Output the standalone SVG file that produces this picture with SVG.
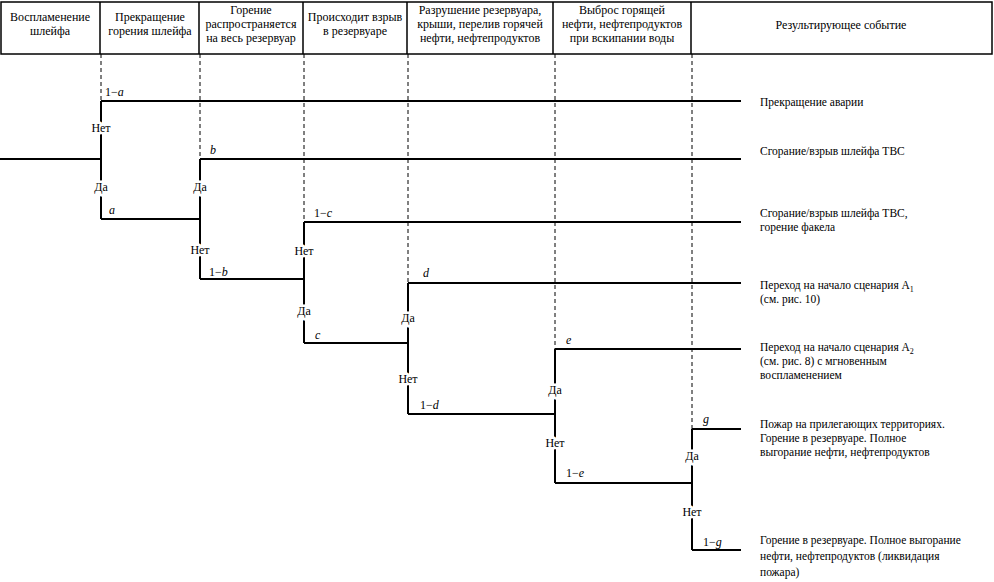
<svg xmlns="http://www.w3.org/2000/svg" width="994" height="582" viewBox="0 0 994 582">
<style>
text{font-family:'Liberation Serif','DejaVu Serif','Times New Roman',serif;font-size:12px;fill:#000}
.h{text-anchor:middle}
.lbl{text-anchor:middle;stroke:#fff;stroke-width:5px;paint-order:stroke;stroke-linejoin:round}
.out{font-size:11.5px}
.br{fill:none;stroke:#000;stroke-width:2}
.dash{fill:none;stroke:#000;stroke-width:1;stroke-dasharray:4 3}
.frame{fill:none;stroke:#000;stroke-width:1.5}
</style>
<rect width="994" height="582" fill="#fff"/>
<g id="header">
<rect class="frame" x="1" y="2" width="991" height="52"/>
<path class="frame" d="M100 2V54M199 2V54M303 2V54M407 2V54M553 2V54M691 2V54"/>
<text class="h" x="50" y="21">Воспламенение</text>
<text class="h" x="50" y="35">шлейфа</text>
<text class="h" x="150" y="21">Прекращение</text>
<text class="h" x="150" y="35">горения шлейфа</text>
<text class="h" x="251" y="14">Горение</text>
<text class="h" x="251" y="28">распространяется</text>
<text class="h" x="251" y="42">на весь резервуар</text>
<text class="h" x="355" y="21">Происходит взрыв</text>
<text class="h" x="355" y="35">в резервуаре</text>
<text class="h" x="480" y="14">Разрушение резервуара,</text>
<text class="h" x="480" y="28">крыши, перелив горячей</text>
<text class="h" x="480" y="42">нефти, нефтепродуктов</text>
<text class="h" x="622" y="14">Выброс горящей</text>
<text class="h" x="622" y="28">нефти, нефтепродуктов</text>
<text class="h" x="622" y="42">при вскипании воды</text>
<text class="h" x="841" y="29">Результирующее событие</text>
</g>
<g id="guides">
<path class="dash" d="M101 54V101M200 54V159M304 54V222M408 54V283M555 54V349M692 54V429"/>
</g>
<g id="connectors">
<path class="br" d="M0 159H101"/>
<path class="br" d="M101 101H741"/>
<path class="br" d="M101 219H200"/>
<path class="br" d="M200 159H741"/>
<path class="br" d="M200 279H304"/>
<path class="br" d="M304 222H741"/>
<path class="br" d="M304 343H408"/>
<path class="br" d="M408 283H741"/>
<path class="br" d="M408 414H555"/>
<path class="br" d="M555 349H741"/>
<path class="br" d="M555 483H692"/>
<path class="br" d="M692 429H741"/>
<path class="br" d="M692 550H741"/>
</g>
<g id="node1">
<path class="br" d="M101 101V219"/>
<text class="lbl" x="101" y="132">Нет</text>
<text class="lbl" x="101" y="191">Да</text>
<text x="105" y="96">1−<tspan font-style="italic">a</tspan></text>
<text x="109" y="214" font-style="italic">a</text>
</g>
<g id="node2">
<path class="br" d="M200 159V279"/>
<text class="lbl" x="200" y="191">Да</text>
<text class="lbl" x="200" y="254">Нет</text>
<text x="210" y="154" font-style="italic">b</text>
<text x="209" y="276">1−<tspan font-style="italic">b</tspan></text>
</g>
<g id="node3">
<path class="br" d="M304 222V343"/>
<text class="lbl" x="304" y="255">Нет</text>
<text class="lbl" x="304" y="315">Да</text>
<text x="314" y="217">1−<tspan font-style="italic">c</tspan></text>
<text x="315" y="339" font-style="italic">c</text>
</g>
<g id="node4">
<path class="br" d="M408 283V414"/>
<text class="lbl" x="408" y="322">Да</text>
<text class="lbl" x="408" y="383">Нет</text>
<text x="423" y="277" font-style="italic">d</text>
<text x="420" y="409">1−<tspan font-style="italic">d</tspan></text>
</g>
<g id="node5">
<path class="br" d="M555 349V483"/>
<text class="lbl" x="555" y="394">Да</text>
<text class="lbl" x="555" y="447">Нет</text>
<text x="566" y="344" font-style="italic">e</text>
<text x="566" y="477">1−<tspan font-style="italic">e</tspan></text>
</g>
<g id="node6">
<path class="br" d="M692 429V550"/>
<text class="lbl" x="692" y="460">Да</text>
<text class="lbl" x="692" y="516">Нет</text>
<text x="703" y="423" font-style="italic">g</text>
<text x="703" y="546">1−<tspan font-style="italic">g</tspan></text>
</g>
<g id="outcomes">
<text class="out" x="760" y="106">Прекращение аварии</text>
<text class="out" x="760" y="155">Сгорание/взрыв шлейфа ТВС</text>
<text class="out" x="760" y="217">Сгорание/взрыв шлейфа ТВС,</text>
<text class="out" x="760" y="231">горение факела</text>
<text class="out" x="760" y="289">Переход на начало сценария А<tspan font-size="8" dy="3">1</tspan></text>
<text class="out" x="760" y="303">(см. рис. 10)</text>
<text class="out" x="760" y="351">Переход на начало сценария А<tspan font-size="8" dy="3">2</tspan></text>
<text class="out" x="760" y="365">(см. рис. 8) с мгновенным</text>
<text class="out" x="760" y="379">воспламенением</text>
<text class="out" x="760" y="428">Пожар на прилегающих территориях.</text>
<text class="out" x="760" y="442">Горение в резервуаре. Полное</text>
<text class="out" x="760" y="456">выгорание нефти, нефтепродуктов</text>
<text class="out" x="760" y="544">Горение в резервуаре. Полное выгорание</text>
<text class="out" x="760" y="560">нефти, нефтепродуктов (ликвидация</text>
<text class="out" x="760" y="576">пожара)</text>
</g>
</svg>
